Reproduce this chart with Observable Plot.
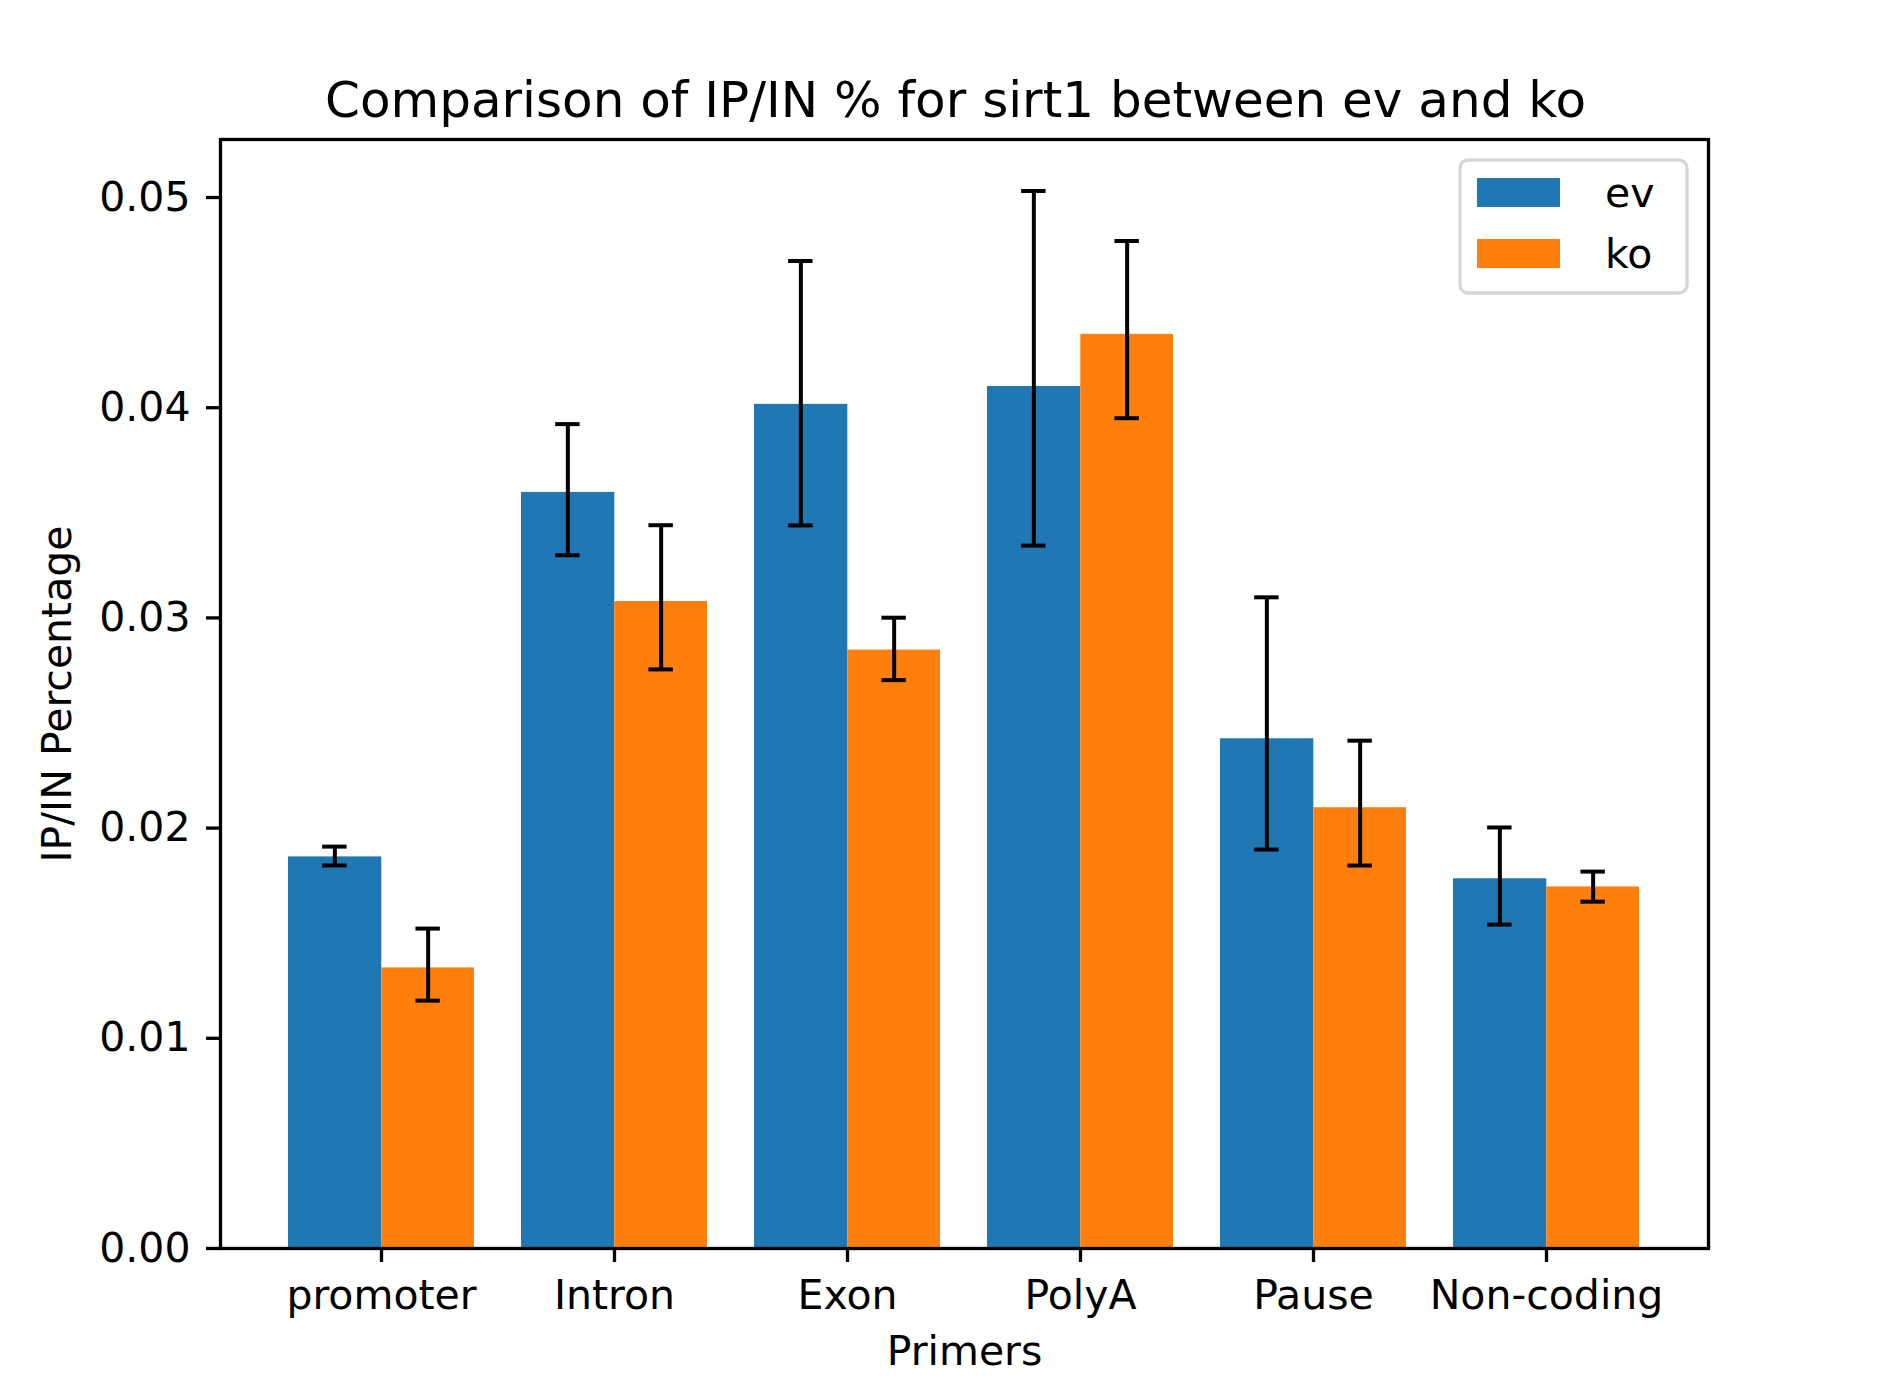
<!DOCTYPE html>
<html><head><meta charset="utf-8">
<script src="https://cdn.jsdelivr.net/npm/d3@7"></script>
<script src="https://cdn.jsdelivr.net/npm/@observablehq/plot@0.6"></script>
<style>
body{margin:0;background:#fff;}
#chart{width:1886px;height:1391px;}
</style>
</head><body><div id="chart"></div>
<script>
const categories = ["promoter","Intron","Exon","PolyA","Pause","Non-coding"];
const series = ["ev","ko"];
const colors = ["#1f77b4","#ff7f0e"];
const evValues = [0.01863,0.03597,0.04016,0.04101,0.02425,0.01759];
const evLow    = [0.01822,0.03298,0.03440,0.03344,0.01898,0.01541];
const evHigh   = [0.01912,0.03922,0.04698,0.05031,0.03098,0.02003];
const koValues = [0.01335,0.03078,0.02847,0.04349,0.02097,0.01720];
const koLow    = [0.01179,0.02755,0.02704,0.03950,0.01822,0.01650];
const koHigh   = [0.01522,0.03441,0.03001,0.04793,0.02416,0.01793];
const yTicks = [0,0.01,0.02,0.03,0.04,0.05];
const titleText = "Comparison of IP/IN % for sirt1 between ev and ko";
const xLabel = "Primers";
const yLabel = "IP/IN Percentage";

const evRows = categories.map((c,i)=>({category:c, series:series[0], value:evValues[i], low:evLow[i], high:evHigh[i]}));
const koRows = categories.map((c,i)=>({category:c, series:series[1], value:koValues[i], low:koLow[i], high:koHigh[i]}));

const W = 1886, H = 1391;
const mL = 220, mR = 178, mT = 139, mB = 143;
const pInner = 0.2, pOuter = 0.29;
const step = (W - mL - mR) / (categories.length - pInner + 2*pOuter);
const bw = step * (1 - pInner);
const half = bw / 2;
const capW = 25;
const capInset = (bw - capW) / 2;
const font = "DejaVu Sans";

function errMarks(rows, dx) {
  return [
    Plot.ruleX(rows, {x:"category", y1:"low", y2:"high", dx, stroke:"black", strokeWidth:4}),
    Plot.tickY(rows, {x:"category", y:"high", dx, insetLeft:capInset, insetRight:capInset, stroke:"black", strokeWidth:4}),
    Plot.tickY(rows, {x:"category", y:"low", dx, insetLeft:capInset, insetRight:capInset, stroke:"black", strokeWidth:4})
  ];
}

const plot = Plot.plot({
  width: W, height: H,
  marginLeft: mL, marginRight: mR, marginTop: mT, marginBottom: mB,
  style: {fontFamily: font, fontSize: "41px", background: "white", color: "black", overflow: "visible"},
  x: {type:"band", domain: categories, paddingInner: pInner, paddingOuter: pOuter, axis: null},
  y: {domain: [0, 0.05276], axis: null},
  marks: [
    Plot.barY(evRows, {x:"category", y:"value", fill: colors[0], insetRight: half - 0.6, insetLeft: 0}),
    Plot.barY(koRows, {x:"category", y:"value", fill: colors[1], insetLeft: half, insetRight: 0}),
    ...errMarks(evRows, -half/2),
    ...errMarks(koRows, half/2),
    Plot.axisX({tickSize: 14, tickPadding: 17, strokeWidth: 3.3, fontSize: 41, label: null, fill: "black"}),
    Plot.axisY({ticks: yTicks, tickFormat: d3.format(".2f"), tickSize: 14, tickPadding: 16, strokeWidth: 3.3, fontSize: 41, label: null, fill: "black"}),
    Plot.frame({stroke: "black", strokeWidth: 3.3}),
    Plot.text([titleText], {frameAnchor: "top", dx: -9, dy: -39, fontSize: 50, lineAnchor: "middle", textAnchor: "middle", fill: "black"}),
    Plot.text([xLabel], {frameAnchor: "bottom", dy: 103, fontSize: 41, lineAnchor: "middle", textAnchor: "middle", fill: "black"}),
    Plot.text([yLabel], {frameAnchor: "left", dx: -163, rotate: -90, fontSize: 41, lineAnchor: "middle", textAnchor: "middle", fill: "black"})
  ]
});

const svg = d3.select(plot);
const lg = svg.append("g").attr("font-family", font).attr("font-size", 41);
lg.append("rect").attr("x", 1460).attr("y", 160).attr("width", 227).attr("height", 133)
  .attr("rx", 8).attr("fill", "white").attr("fill-opacity", 0.8)
  .attr("stroke", "#d6d6d6").attr("stroke-width", 3.3);
series.forEach((s, i) => {
  lg.append("rect").attr("x", 1477).attr("y", 178 + 61*i).attr("width", 83).attr("height", 29).attr("fill", colors[i]);
  lg.append("text").attr("x", 1605).attr("y", 207 + 61*i).attr("text-anchor", "start").attr("fill", "black").text(s);
});

document.getElementById("chart").appendChild(plot);
</script>
</body></html>
